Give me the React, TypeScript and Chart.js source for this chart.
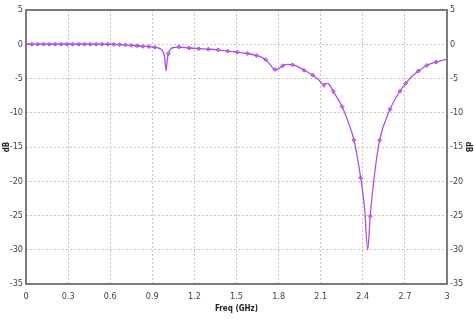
import React, { useEffect, useRef } from "react";
import { Chart, registerables } from "chart.js";

Chart.register(...registerables);

const xTicks = [0, 0.3, 0.6, 0.9, 1.2, 1.5, 1.8, 2.1, 2.4, 2.7, 3];
const yTicks = [5, 0, -5, -10, -15, -20, -25, -30, -35];

// smooth trace (GHz, dB)
const lineFreq = [
  0, 0.2, 0.4, 0.6, 0.667, 0.708, 0.75, 0.792, 0.833, 0.875, 0.917, 0.95, 0.972, 0.988, 0.998,
  1.006, 1.014, 1.03, 1.06, 1.09, 1.161, 1.231, 1.299, 1.368, 1.437, 1.506, 1.577, 1.644,
  1.708, 1.745, 1.774, 1.8, 1.829, 1.865, 1.899, 1.94, 1.981, 2.043, 2.09, 2.123, 2.14,
  2.154, 2.19, 2.252, 2.3, 2.337, 2.385, 2.412, 2.435, 2.453, 2.48, 2.52, 2.594, 2.665,
  2.706, 2.75, 2.796, 2.855, 2.922, 3.0,
];
const lineDb = [
  0, 0, 0, 0, -0.05, -0.1, -0.15, -0.22, -0.3, -0.35, -0.45, -0.6, -0.95, -1.9, -3.9,
  -2.4, -1.4, -0.7, -0.45, -0.4, -0.55, -0.65, -0.72, -0.82, -1.0, -1.15, -1.35, -1.65,
  -2.25, -3.1, -3.7, -3.6, -3.15, -2.95, -3.0, -3.3, -3.8, -4.5, -5.3, -5.95, -5.7,
  -5.75, -6.9, -9.1, -11.6, -14.0, -19.5, -23.8, -30.0, -25.1, -19.6, -14.0, -9.5, -6.85,
  -5.7, -4.7, -3.9, -3.1, -2.6, -2.2,
];

// sample markers (GHz, dB)
const markerFreq = [
  0, 0.042, 0.083, 0.125, 0.167, 0.208, 0.25, 0.292, 0.333, 0.375, 0.417, 0.458, 0.5,
  0.542, 0.583, 0.625, 0.667, 0.708, 0.75, 0.792, 0.833, 0.875, 0.917, 1.014, 1.09,
  1.161, 1.231, 1.299, 1.368, 1.437, 1.506, 1.577, 1.644, 1.708, 1.774, 1.829, 1.899,
  1.981, 2.043, 2.123, 2.19, 2.252, 2.337, 2.385, 2.453, 2.52, 2.594, 2.665, 2.706,
  2.796, 2.855, 2.922,
];
const markerDb = [
  0, 0, 0, 0, 0, 0, 0, 0, 0, 0, 0, 0, 0,
  0, 0, 0, -0.05, -0.1, -0.15, -0.22, -0.3, -0.35, -0.45, -1.4, -0.4,
  -0.55, -0.65, -0.72, -0.82, -1.0, -1.15, -1.35, -1.65, -2.25, -3.7, -3.15, -3.0,
  -3.8, -4.5, -6.0, -6.9, -9.1, -14.0, -19.5, -25.1, -14.0, -9.5, -6.85, -5.7,
  -3.9, -3.1, -2.6,
];

const xTitle = "Freq (GHz)";
const yTitle = "dB";

const TRACE = "#b04fe0";
const FONT = "'Liberation Sans Narrow', 'DejaVu Sans Condensed', Arial, sans-serif";

const frameBox = {
  id: "frameBox",
  afterDraw(chart: any) {
    const { ctx, chartArea } = chart;
    ctx.save();
    ctx.strokeStyle = "#7a7a7a";
    ctx.lineWidth = 2;
    ctx.strokeRect(chartArea.left, chartArea.top, chartArea.right - chartArea.left, chartArea.bottom - chartArea.top);
    ctx.restore();
  },
};

export default function App() {
  const ref = useRef<HTMLCanvasElement | null>(null);

  useEffect(() => {
    document.body.style.margin = "0";
    const canvas = ref.current;
    if (!canvas) return;

    const tickFont = { family: FONT, size: 9 };
    const titleFont = { family: FONT, size: 8, weight: "bold" as const };

    const chart = new Chart(canvas, {
      type: "line",
      data: {
        datasets: [
          {
            label: "trace",
            data: lineFreq.map((f, i) => ({ x: f, y: lineDb[i] })),
            borderColor: TRACE,
            borderWidth: 1.3,
            pointRadius: 0,
            cubicInterpolationMode: "monotone",
            yAxisID: "y",
          },
          {
            label: "markers",
            data: markerFreq.map((f, i) => ({ x: f, y: markerDb[i] })),
            showLine: false,
            borderColor: TRACE,
            backgroundColor: "#d9a8f2",
            borderWidth: 1,
            pointRadius: 2,
            pointStyle: "rectRot",
            yAxisID: "y",
          },
        ],
      },
      options: {
        responsive: false,
        animation: false,
        layout: { padding: { top: 10, left: 0, right: 0, bottom: 0 } },
        plugins: { legend: { display: false }, tooltip: { enabled: false } },
        scales: {
          x: {
            type: "linear",
            min: 0,
            max: 3,
            afterBuildTicks: (s: any) => {
              s.ticks = xTicks.map((v) => ({ value: v }));
            },
            afterFit: (s: any) => {
              s.height = 42;
            },
            ticks: {
              callback: (v: any) => String(Math.round(Number(v) * 10) / 10),
              font: tickFont,
              color: "#444",
              padding: 7,
              maxRotation: 0,
              autoSkip: false,
            },
            grid: { color: "#c4c4c4", drawTicks: false, lineWidth: 1 },
            border: { display: false, dash: [2, 2] },
            title: { display: true, text: xTitle, font: titleFont, color: "#222", padding: { top: 0, bottom: 12 } },
          },
          y: {
            type: "linear",
            position: "left",
            min: -35,
            max: 5,
            afterBuildTicks: (s: any) => {
              s.ticks = yTicks.map((v) => ({ value: v }));
            },
            afterFit: (s: any) => {
              s.width = 26;
            },
            ticks: { callback: (v: any) => String(v), font: tickFont, color: "#444", padding: 3 },
            grid: { color: "#c4c4c4", drawTicks: false, lineWidth: 1 },
            border: { display: false, dash: [2, 2] },
            title: { display: true, text: yTitle, font: titleFont, color: "#222", padding: { top: 2, bottom: 0 } },
          },
          y2: {
            type: "linear",
            position: "right",
            display: true,
            min: -35,
            max: 5,
            afterBuildTicks: (s: any) => {
              s.ticks = yTicks.map((v) => ({ value: v }));
            },
            afterFit: (s: any) => {
              s.width = 27;
            },
            ticks: { callback: (v: any) => String(v), font: tickFont, color: "#444", padding: 3 },
            grid: { display: false, drawTicks: false },
            border: { display: false },
            title: { display: true, text: yTitle, font: titleFont, color: "#222", padding: { top: 1, bottom: 0 } },
          },
        },
      },
      plugins: [frameBox],
    });

    return () => chart.destroy();
  }, []);

  return (
    <div style={{ width: 474, height: 326, background: "#fff" }}>
      <canvas ref={ref} width={474} height={326} />
    </div>
  );
}
